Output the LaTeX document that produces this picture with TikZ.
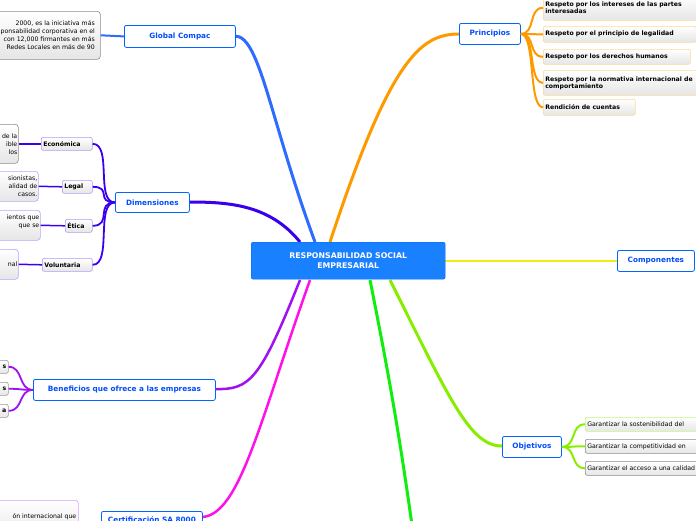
\documentclass[tikz,border=0pt]{standalone}
\usepackage{fontspec}
\setmainfont{DejaVu Sans}
\begin{document}
\begin{tikzpicture}[x=1pt,y=-1pt,
 topic/.style={draw=blue!60!cyan,line width=0.8pt,rounded corners=2pt,fill=white,font=\fontsize{7.3}{8}\selectfont\bfseries,text=blue!70!cyan,inner sep=0pt,anchor=north west},
 sub/.style={draw=#1,line width=0.6pt,rounded corners=2pt,top color=white,bottom color=black!10,font=\fontsize{6.2}{7}\selectfont\bfseries,inner xsep=2pt,inner ysep=0pt,anchor=north west,align=left},
 txt/.style={draw=#1,line width=0.6pt,rounded corners=3pt,top color=white,bottom color=black!10,font=\fontsize{6.2}{8}\selectfont,inner sep=0pt,anchor=north west,align=left},
 br/.style={line width=#1}]
\definecolor{cglob}{HTML}{2E6BFF}\definecolor{cdim}{HTML}{3A00EE}\definecolor{cben}{HTML}{A010F0}
\definecolor{ccert}{HTML}{FF10E8}\definecolor{cpri}{HTML}{FF9900}\definecolor{ccom}{HTML}{EEEE10}
\definecolor{cobj}{HTML}{88EE00}\definecolor{cgre}{HTML}{10EE10}
\useasboundingbox (0,0) rectangle (696,520);
\clip (0,0) rectangle (696,520);
% branches
\draw[cglob,br=3pt] (315,242) .. controls (270,120) and (260,36) .. (235,36);
\draw[cdim,br=3pt] (300,242) .. controls (270,205) and (230,202) .. (189,202);
\draw[cben,br=2.5pt] (300,280) .. controls (260,380) and (250,390) .. (215,389);
\draw[ccert,br=2.5pt] (310,280) .. controls (260,420) and (240,515) .. (202,517);
\draw[cpri,br=3pt] (330,242) .. controls (390,60) and (420,34) .. (459,34);
\draw[ccom,br=2.5pt] (445,261) -- (617,261);
\draw[cobj,br=3pt] (390,280) .. controls (450,400) and (470,446) .. (502,446);
\draw[cgre,br=3pt] (370,280) .. controls (390,380) and (400,440) .. (412,525);
% center
\node[draw=blue!60!cyan,fill=blue!55!cyan!90!white,rounded corners=2pt,minimum width=194pt,minimum height=37pt,inner sep=0pt,anchor=north west,align=center,text=white,font=\fontsize{7.8}{9.5}\selectfont\bfseries] (c) at (251,242) {RESPONSABILIDAD SOCIAL\\EMPRESARIAL};
% Global Compac
\node[topic,minimum width=111pt,minimum height=22pt] (gc) at (124,25) {Global Compac};
\node[txt=black!45,minimum width=140pt,minimum height=48pt] (gct) at (-40,11) {\hspace{4pt}\parbox{125pt}{\raggedleft 2000, es la iniciativa más\\ responsabilidad corporativa en el\\ con 12,000 firmantes en más\\ Redes Locales en más de 90}};
\draw[cglob,br=2pt] (gct.east) -- (gc.west);
% Dimensiones
\node[topic,minimum width=74pt,minimum height=20pt] (dim) at (115,192) {Dimensiones};
\node[sub=cdim!40,text width=47pt,minimum height=13pt] (eco) at (41,137) {Económica};
\node[sub=cdim!40,text width=26pt,minimum height=13pt] (leg) at (62,180) {Legal};
\node[sub=cdim!40,text width=23pt,minimum height=13pt] (eti) at (65,219) {Ética};
\node[sub=cdim!40,text width=46pt,minimum height=13pt] (vol) at (42,258) {Voluntaria};
\foreach \n in {eco,leg,eti,vol}{\draw[cdim,br=1.8pt] (dim.west) .. controls +(-20,0) and +(20,0) .. (\n.east);}
\node[txt=black!45,minimum width=60pt,minimum height=39pt] (t1) at (-42,124) {\parbox{58pt}{\raggedleft de la\\ible\\los}};
\node[txt=cdim!35,minimum width=80pt,minimum height=30pt] (t2) at (-42,171) {\parbox{78pt}{\raggedleft sionistas,\\alidad de\\casos.}};
\node[txt=cdim!35,minimum width=82pt,minimum height=30pt] (t3) at (-42,210) {\parbox{80pt}{\raggedleft ientos que\\que se\\ \ }};
\node[txt=blue!35,minimum width=60pt,minimum height=30pt] (t4) at (-42,249) {\parbox{58pt}{\raggedleft nal}};
\draw[cdim,br=1.5pt] (t1.east) -- (eco.west);
\draw[cdim,br=1.5pt] (t2.east) -- (leg.west);
\draw[cdim,br=1.5pt] (t3.east) -- (eti.west);
\draw[cdim,br=1.5pt] (t4.east) -- (vol.west);
% Beneficios
\node[topic,minimum width=182pt,minimum height=21pt] (ben) at (33,379) {Beneficios que ofrece a las empresas};
\node[sub=black!40,text width=16pt,minimum height=13pt,align=right] (b1) at (-12,360) {s};
\node[sub=black!40,text width=16pt,minimum height=13pt,align=right] (b2) at (-12,382) {s};
\node[sub=black!40,text width=16pt,minimum height=13pt,align=right] (b3) at (-12,404) {a};
\foreach \n in {b1,b2,b3}{\draw[cben,br=1.8pt] (ben.west) .. controls +(-15,0) and +(15,0) .. (\n.east);}
% Certificacion
\node[topic,minimum width=101pt,minimum height=21pt,anchor=north west] (cer) at (101,511) {\raisebox{5pt}{Certificación SA 8000}};
\node[txt=cben!40,minimum width=120pt,minimum height=40pt] (cet) at (-42,500) {\parbox{116pt}{\raggedleft ón internacional que\\arrollar, mantener y}};
% Principios
\node[topic,minimum width=61pt,minimum height=21pt] (pri) at (459,23) {Principios};
\node[sub=cpri!40,text width=166pt,minimum height=25pt] (p1) at (543,-5) {Respeto por los intereses de las partes\\interesadas};
\node[sub=cpri!40,text width=149pt,minimum height=16pt] (p2) at (543,26) {Respeto por el principio de legalidad};
\node[sub=cpri!40,text width=143pt,minimum height=15pt] (p3) at (543,49) {Respeto por los derechos humanos};
\node[sub=cpri!40,text width=166pt,minimum height=25pt] (p4) at (543,70) {Respeto por la normativa internacional de\\comportamiento};
\node[sub=cpri!40,text width=88pt,minimum height=16pt] (p5) at (543,99) {Rendición de cuentas};
\foreach \n in {p1,p2,p3,p4,p5}{\draw[cpri,br=2pt] (pri.east) .. controls +(15,0) and +(-15,0) .. (\n.west);}
% Componentes
\node[topic,minimum width=77pt,minimum height=21pt] (com) at (617,250) {Componentes};
% Objetivos
\node[sub=cobj!50,text width=126pt,minimum height=14pt,font=\fontsize{6.2}{7}\selectfont] (o1) at (585,417) {Garantizar la sostenibilidad del};
\node[sub=black!45,text width=126pt,minimum height=14pt,font=\fontsize{6.2}{7}\selectfont] (o2) at (585,439) {Garantizar la competitividad en};
\node[sub=black!45,text width=126pt,minimum height=14pt,font=\fontsize{6.2}{7}\selectfont] (o3) at (585,461) {Garantizar el acceso a una calidad};
\node[topic,minimum width=59pt,minimum height=21pt] (obj) at (502,436) {Objetivos};
\foreach \n in {o1,o2,o3}{\draw[cobj,br=2pt] (obj.east) .. controls +(15,0) and +(-15,0) .. (\n.west);}
\end{tikzpicture}
\end{document}
